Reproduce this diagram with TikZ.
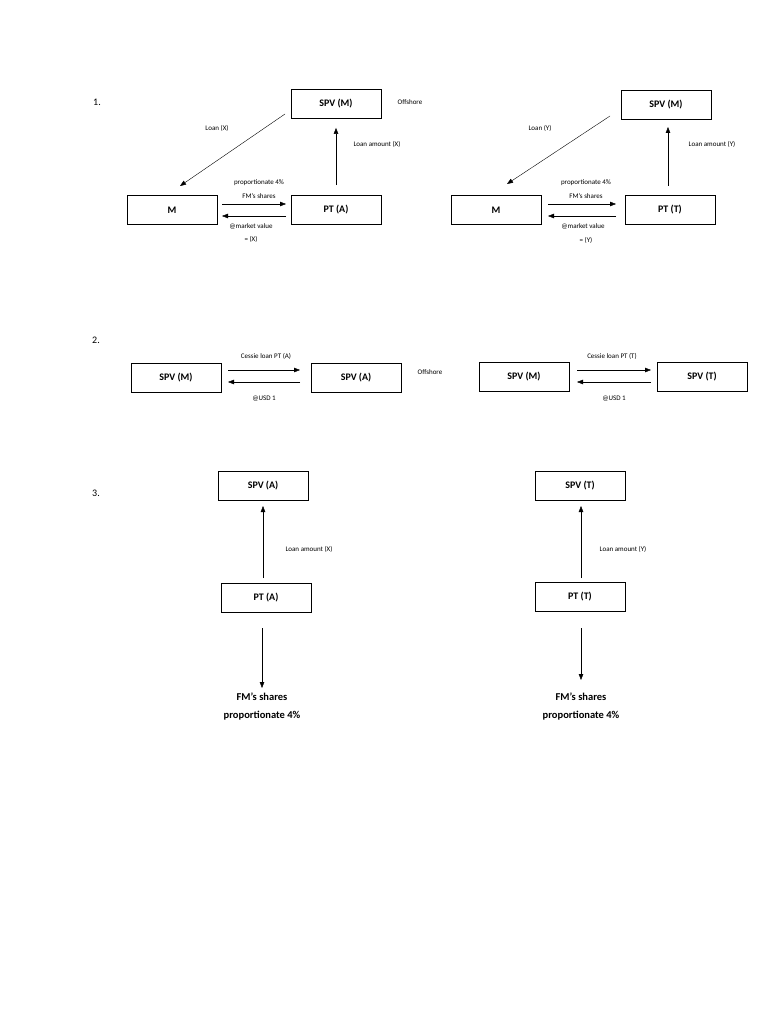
\documentclass[tikz,border=0pt]{standalone}
\usepackage{fontspec}
\setmainfont{Carlito}
\usetikzlibrary{arrows.meta}
\begin{document}
\begin{tikzpicture}[x=1pt,y=-1pt,
  box/.style={draw,thick,minimum width=90pt,minimum height=29pt,inner sep=0pt,font=\fontsize{10}{12}\selectfont\bfseries},
  lbl/.style={font=\fontsize{7}{8}\selectfont,inner sep=0pt},
  num/.style={font=\fontsize{10}{12}\selectfont,inner sep=0pt},
  big/.style={font=\fontsize{10.5}{13}\selectfont\bfseries,inner sep=0pt},
  flow/.style={-{Triangle[length=6pt,width=4.5pt]}}]
\useasboundingbox (0,0) rectangle (768,1024);
% 1.
\node[num] (n1) at (97,102) {1.};
\node[box] (spvma) at (336,104) {SPV (M)};
\node[lbl] (offa) at (410,102) {Offshore};
\node[box] (ma) at (172,210) {M};
\node[box] (pta) at (336,210) {PT (A)};
\coordinate (la1) at (285,114); \coordinate (la2) at (180,186);
\draw[flow] (la1) -- (la2);
\node[lbl] (loanx) at (217,128) {Loan (X)};
\draw[flow,shorten <=10pt,shorten >=9pt] (pta) -- (spvma);
\node[lbl] (amtx) at (377,144) {Loan amount (X)};
\coordinate (ra1) at (222,204); \coordinate (ra2) at (286,204);
\coordinate (ra3) at (286,216); \coordinate (ra4) at (222,216);
\draw[flow] (ra1) -- (ra2);
\draw[flow] (ra3) -- (ra4);
\node[lbl] (propa) at (259,183) {proportionate 4\%};
\node[lbl] (fma) at (259,196) {FM’s shares};
\node[lbl] (mkta) at (251,226) {@market value};
\node[lbl] (eqx) at (251,239) {= (X)};
\node[box] (spvmt) at (666,105) {SPV (M)};
\node[box] (mt) at (496,210) {M};
\node[box] (ptt) at (670,210) {PT (T)};
\coordinate (lb1) at (610,116); \coordinate (lb2) at (507,184);
\draw[flow] (lb1) -- (lb2);
\node[lbl] (loany) at (540,128) {Loan (Y)};
\coordinate (ub1) at (668,186); \coordinate (ub2) at (668,127);
\draw[flow] (ub1) -- (ub2);
\node[lbl] (amty) at (712,144) {Loan amount (Y)};
\coordinate (rb1) at (548,204); \coordinate (rb2) at (616,204);
\coordinate (rb3) at (616,216); \coordinate (rb4) at (548,216);
\draw[flow] (rb1) -- (rb2);
\draw[flow] (rb3) -- (rb4);
\node[lbl] (propt) at (586,183) {proportionate 4\%};
\node[lbl] (fmt) at (586,196) {FM’s shares};
\node[lbl] (mktt) at (583,226) {@market value};
\node[lbl] (eqy) at (586,240) {= (Y)};
% 2.
\node[num] (n2) at (96,340) {2.};
\node[box] (spvmc) at (176,378) {SPV (M)};
\node[box] (spva) at (356,378) {SPV (A)};
\node[lbl] (offc) at (430,372) {Offshore};
\coordinate (ca1) at (228,370); \coordinate (ca2) at (300,370);
\coordinate (ca3) at (300,382); \coordinate (ca4) at (228,382);
\draw[flow] (ca1) -- (ca2);
\draw[flow] (ca3) -- (ca4);
\node[lbl] (cessa) at (266,356) {Cessie loan PT (A)};
\node[lbl] (usda) at (264,399) {@USD 1};
\node[box] (spvmd) at (524,377) {SPV (M)};
\node[box] (spvt) at (702,377) {SPV (T)};
\coordinate (cb1) at (577,370); \coordinate (cb2) at (651,370);
\coordinate (cb3) at (651,382); \coordinate (cb4) at (577,382);
\draw[flow] (cb1) -- (cb2);
\draw[flow] (cb3) -- (cb4);
\node[lbl] (cesst) at (612,356) {Cessie loan PT (T)};
\node[lbl] (usdt) at (614,399) {@USD 1};
% 3.
\node[num] (n3) at (96,493) {3.};
\node[box] (spva3) at (263,486) {SPV (A)};
\node[box] (pta3) at (266,598) {PT (A)};
\coordinate (ua1) at (263,578); \coordinate (ua2) at (263,506);
\draw[flow] (ua1) -- (ua2);
\node[lbl] (amtx3) at (309,549) {Loan amount (X)};
\coordinate (da1) at (262,628); \coordinate (da2) at (262,688);
\draw[flow] (da1) -- (da2);
\node[big] (fm3a) at (262,697) {FM’s shares};
\node[big] (pr3a) at (262,716) {proportionate 4\%};
\node[box] (spvt3) at (580,486) {SPV (T)};
\node[box] (ptt3) at (580,597) {PT (T)};
\coordinate (ut1) at (581,578); \coordinate (ut2) at (581,506);
\draw[flow] (ut1) -- (ut2);
\node[lbl] (amty3) at (623,549) {Loan amount (Y)};
\coordinate (dt1) at (581,628); \coordinate (dt2) at (581,680);
\draw[flow] (dt1) -- (dt2);
\node[big] (fm3t) at (581,697) {FM’s shares};
\node[big] (pr3t) at (581,716) {proportionate 4\%};
\end{tikzpicture}
\end{document}
